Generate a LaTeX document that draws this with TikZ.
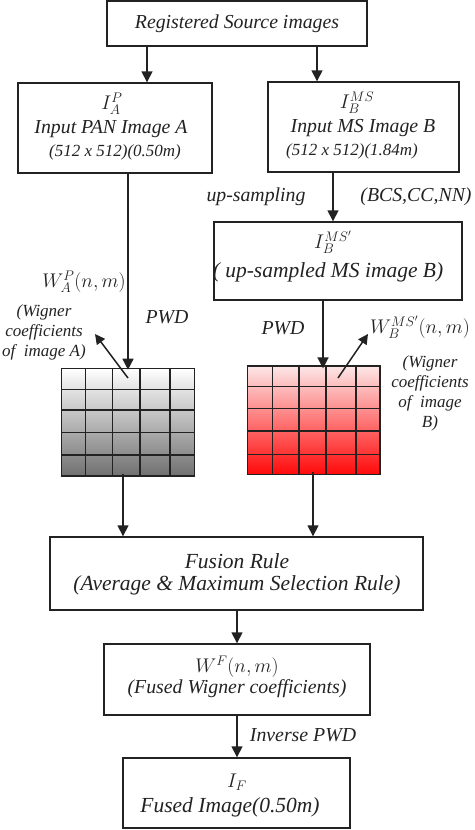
\RequirePackage{fix-cm}
\documentclass[tikz,border=0pt]{standalone}
\usepackage{fontspec}
\setmainfont{Liberation Serif}
\usetikzlibrary{arrows.meta}
\definecolor{ink}{HTML}{222222}
\definecolor{grayend}{HTML}{707070}
\definecolor{pinktop}{HTML}{FCE6E6}
\definecolor{redend}{HTML}{FF0A0A}
\tikzset{
  box/.style={draw=ink, line width=1.4pt, inner sep=0pt},
  arr/.style={line width=1.5pt, draw=ink, -{Triangle[length=11pt,width=11pt]}},
  darr/.style={line width=1.5pt, draw=ink, -{Triangle[length=10pt,width=10pt]}},
  txt/.style={font=\fontsize{19.8}{22}\selectfont\itshape, inner sep=0pt, text=ink},
  btxt/.style={font=\fontsize{21.5}{24}\selectfont\itshape, inner sep=0pt, text=ink},
  stxt/.style={font=\fontsize{17}{20}\selectfont\itshape, inner sep=0pt, align=center, text=ink},
  gridline/.style={draw=ink, line width=1.2pt},
}
\begin{document}
\begin{tikzpicture}[x=1pt,y=-1pt]
\useasboundingbox (0,0) rectangle (474,830);
% boxes
\node[box, minimum width=260, minimum height=45] (top) at (237,23.5) {};
\node[box, minimum width=194, minimum height=90] (A) at (115,128) {};
\node[box, minimum width=191, minimum height=90] (B) at (363.5,127) {};
\node[box, minimum width=248, minimum height=78] (Bp) at (338,261) {};
\node[box, minimum width=373, minimum height=73] (fus) at (236.5,573.5) {};
\node[box, minimum width=266, minimum height=71] (W) at (237,679.5) {};
\node[box, minimum width=227, minimum height=70] (F) at (236.5,793) {};
% grids
\node[draw=ink, line width=1.2pt, inner sep=0pt, minimum width=132.6, minimum height=107.7,
      top color=white, bottom color=grayend] (gA) at (128,422.15) {};
\node[draw=ink, line width=1.2pt, inner sep=0pt, minimum width=132.7, minimum height=108.3,
      top color=pinktop, bottom color=redend] (gB) at (313.65,420.15) {};
\foreach \x in {85.7,112.3,140,170} \draw[gridline] (\x,368.3) -- (\x,476);
\foreach \y in {389.3,410,432.3,455} \draw[gridline] (61.7,\y) -- (194.3,\y);
\foreach \x in {272.3,299,326,356} \draw[gridline] (\x,366) -- (\x,474.3);
\foreach \y in {386.7,408.3,431,454.3} \draw[gridline] (247.3,\y) -- (380,\y);
% texts
\node[txt] (tTop) at (237,24) {Registered Source images};
\node[txt] (tA1) at (112,104) {$I_A^P$};
\node[txt] (tA2) at (111,129.5) {Input PAN Image A};
\node[stxt] (tA3) at (115,152) {(512 x 512)(0.50m)};
\node[txt] (tB1) at (357,103) {$I_B^{MS}$};
\node[txt] (tB2) at (363,128.5) {Input MS Image B};
\node[stxt] (tB3) at (352,151) {(512 x 512)(1.84m)};
\node[txt] (tUp) at (256,197) {up-sampling};
\node[txt] (tBCS) at (416,197) {(BCS,CC,NN)};
\node[txt] (tBp1) at (333,242) {$I_B^{MS'}$};
\node[btxt] (tBp2) at (328,272) {( up-sampled MS image B)};
\node[txt] (tWA) at (84,282) {$W_A^P(n,m)$};
\node[txt] (tPWDa) at (167,317) {PWD};
\node[stxt] (tWigA) at (44,332) {(Wigner\\coefficients\\of\ \ image A)};
\node[txt] (tPWDb) at (283,328) {PWD};
\node[txt] (tWB) at (420,327) {$W_B^{MS'}(n,m)$};
\node[stxt] (tWigB) at (430,393) {(Wigner\\coefficients\\of\ \ image\\B)};
\node[btxt] (tFus1) at (237,561) {Fusion Rule};
\node[btxt] (tFus2) at (237,585) {(Average \& Maximum Selection Rule)};
\node[txt] (tW1) at (237,667) {$W^F(n,m)$};
\node[txt] (tW2) at (237,688.5) {(Fused Wigner coefficients)};
\node[txt] (tInv) at (303,735) {Inverse PWD};
\node[txt] (tF1) at (237,782) {$I_F$};
\node[btxt] (tF2) at (230,807) {Fused Image(0.50m)};
% connector x positions
\coordinate (xa) at (147,0);
\coordinate (xb) at (317,0);
\coordinate (xc) at (128,0);
\coordinate (xd) at (333,0);
\coordinate (xe) at (323,0);
\coordinate (xf) at (123,0);
\coordinate (xg) at (313,0);
\coordinate (xh) at (237,0);
\draw[arr] (top.south -| xa) -- (A.north -| xa);
\draw[arr] (top.south -| xb) -- (B.north -| xb);
\draw[arr] (A.south -| xc) -- ([yshift=-2pt]gA.north -| xc);
\draw[arr] (B.south -| xd) -- (Bp.north -| xd);
\draw[arr] (Bp.south -| xe) -- ([yshift=-3pt]gB.north -| xe);
\draw[arr] ([yshift=3pt]gA.south -| xf) -- (fus.north -| xf);
\draw[arr] ([yshift=3pt]gB.south -| xg) -- (fus.north -| xg);
\draw[arr] (fus.south -| xh) -- (W.north -| xh);
\draw[arr] (W.south -| xh) -- (F.north -| xh);
% coefficient arrows
\coordinate (dA1) at (128,378);
\coordinate (dA2) at (95,334);
\coordinate (dB1) at (338,378);
\coordinate (dB2) at (368,334);
\draw[darr] (dA1) -- (dA2);
\draw[darr] (dB1) -- (dB2);
\end{tikzpicture}
\end{document}
